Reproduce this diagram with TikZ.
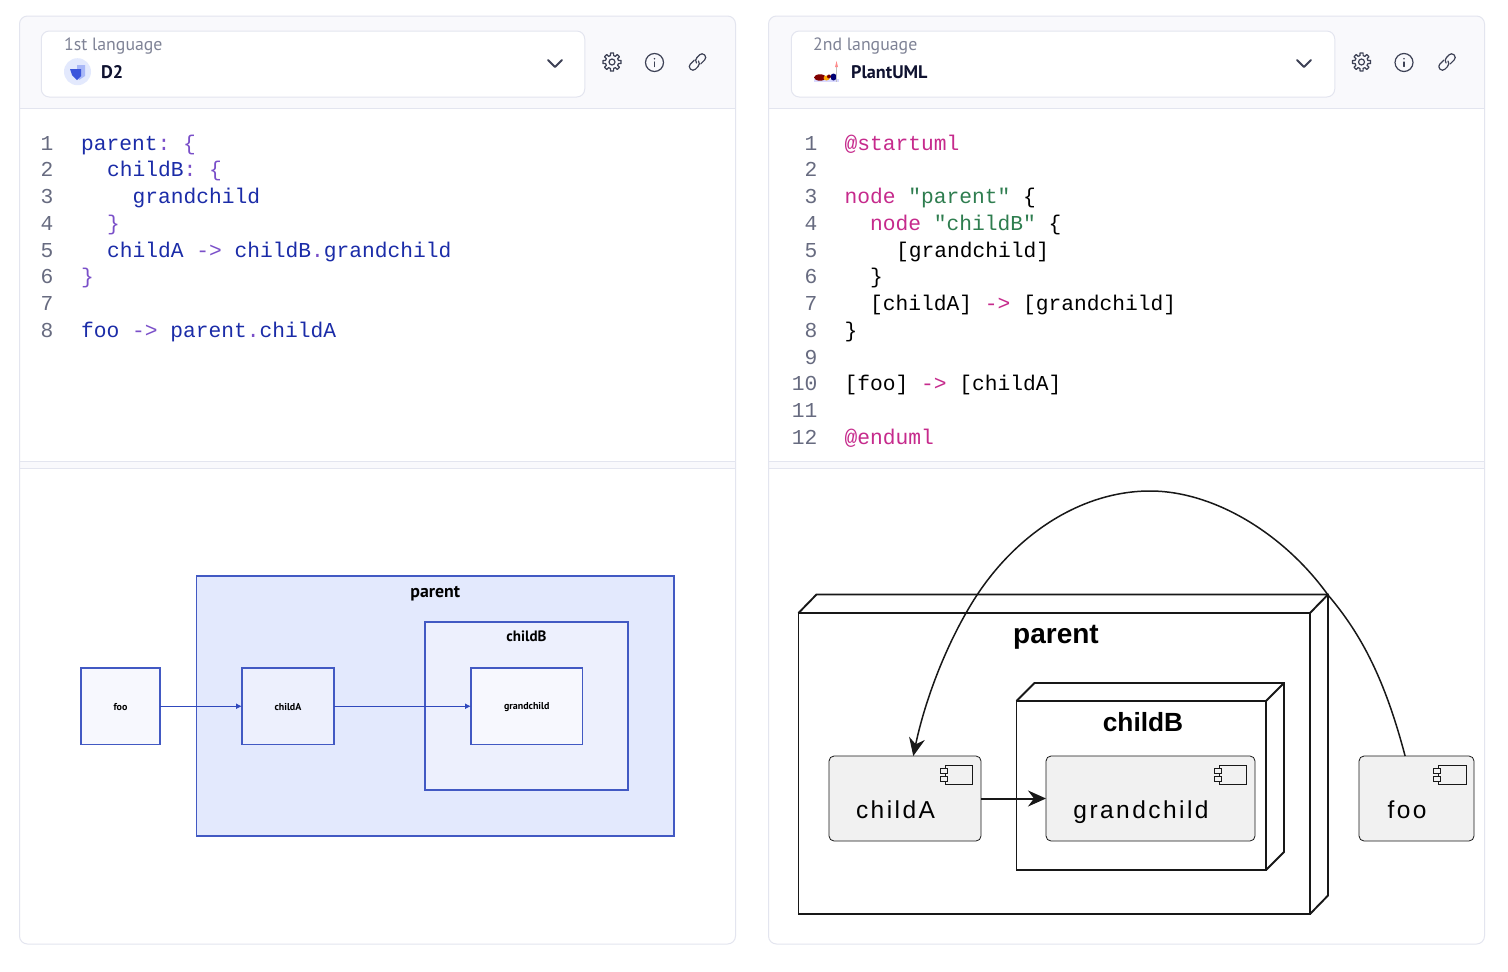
\documentclass[tikz,border=0pt]{standalone}
\usepackage{fontspec}
\setmainfont{PT Sans}
\setmonofont{Liberation Mono}
\newfontfamily\umlfont[LetterSpace=10]{Liberation Sans}
\newfontfamily\umlbold[Scale=1]{Liberation Sans Bold}
\usetikzlibrary{arrows.meta,calc}

\definecolor{edgegray}{HTML}{E3E5EF}
\definecolor{headfill}{HTML}{F9F9FC}
\definecolor{labelgray}{HTML}{7F8396}
\definecolor{inkdark}{HTML}{0F1230}
\definecolor{icongray}{HTML}{3D4155}
\definecolor{numgray}{HTML}{676B80}
\definecolor{dtwoline}{HTML}{4259C3}
\definecolor{dtwoarrow}{HTML}{3049BD}
\definecolor{dtwoa}{HTML}{E3E9FD}
\definecolor{dtwob}{HTML}{EDF0FD}
\definecolor{dtwoc}{HTML}{F7F8FE}
\definecolor{logolight}{HTML}{A9B8F7}
\definecolor{logodark}{HTML}{3B55DB}
\definecolor{keyblue}{HTML}{1B2CA8}
\definecolor{punctpurple}{HTML}{7A4FC9}
\definecolor{kwpink}{HTML}{C62A8C}
\definecolor{strgreen}{HTML}{2E7D4F}
\definecolor{umlfill}{HTML}{F1F1F1}
\definecolor{umlline}{HTML}{181818}

\newcommand{\ky}[1]{\textcolor{keyblue}{#1}}
\newcommand{\pu}[1]{\textcolor{punctpurple}{#1}}
\newcommand{\kw}[1]{\textcolor{kwpink}{#1}}
\newcommand{\st}[1]{\textcolor{strgreen}{#1}}

\tikzset{
  panelline/.style={draw=edgegray, line width=1pt},
  dropbox/.style={draw=edgegray, line width=1pt, fill=white, rounded corners=8pt,
    minimum width=543.5pt, minimum height=66pt, inner sep=0pt},
  langtitle/.style={anchor=base west, font=\fontsize{17.8}{20}\selectfont, text=labelgray, inner sep=0pt},
  langname/.style={anchor=base west, font=\fontsize{18.2}{20}\selectfont\bfseries, text=inkdark, inner sep=0pt},
  codeline/.style={anchor=base west, font=\fontsize{21.25}{24}\selectfont\ttfamily, text=black, inner sep=0pt},
  numline/.style={anchor=base east, font=\fontsize{21.25}{24}\selectfont\ttfamily, text=numgray, inner sep=0pt},
  dtwobox/.style={draw=dtwoline, line width=1.2pt, inner sep=0pt, outer sep=0pt},
  dtwosmall/.style={font=\fontsize{10}{11}\selectfont\bfseries, text=black, inner sep=0pt},
  dtwoarrowline/.style={draw=dtwoarrow, line width=1.3pt, -{Latex[length=6pt,width=6pt]}},
  umlbox/.style={draw=umlline, line width=1.9pt, fill=white, inner sep=0pt, outer sep=0pt},
  umledge/.style={draw=umlline, line width=1.9pt, line join=miter},
  umlcomp/.style={draw=umlline, line width=0.8pt, fill=umlfill, rounded corners=5pt, inner sep=0pt, outer sep=0pt},
  umltext/.style={anchor=base, font=\fontsize{24.5}{28}\umlfont\selectfont, text=black, inner sep=0pt},
  umlhead/.style={font=\fontsize{28}{30}\umlbold\selectfont, text=black, inner sep=0pt},
  umlarrow/.style={draw=umlline, -{Stealth[length=18pt,width=16pt,inset=6pt]}},
  iconline/.style={draw=icongray, line width=1.2pt, line cap=round, line join=round},
  gearicon/.pic={
    \draw[iconline] (0,0) circle [radius=3];
    \foreach \a in {0,45,...,315} {
      \draw[iconline] ({\a-14}:6.6) -- ({\a-10}:9.2) -- ({\a+10}:9.2) -- ({\a+14}:6.6)
        arc [start angle=\a+14, end angle=\a+31, radius=6.6];
    }
  },
  infoicon/.pic={
    \draw[iconline] (0,0) circle [radius=9];
    \draw[iconline] (0,-0.5) -- (0,4);
    \fill[icongray] (0,-3.8) circle [radius=0.9];
  },
  linkicon/.pic={
    \begin{scope}[rotate=45]
    \draw[iconline, rounded corners=3.4pt] (-1,-3.6) -- (-10,-3.6) -- (-10,3.6) -- (-3,3.6);
    \draw[iconline] (-3,3.6) .. controls (-0.8,3.6) and (1.4,2) .. (1.4,0);
    \draw[iconline, rounded corners=3.4pt] (1,3.6) -- (10,3.6) -- (10,-3.6) -- (3,-3.6);
    \draw[iconline] (3,-3.6) .. controls (0.8,-3.6) and (-1.4,-2) .. (-1.4,0);
    \end{scope}
  },
  compicon/.pic={
    \draw[draw=umlline, line width=0.7pt, fill=umlfill] (5,-9.5) rectangle (32.5,9.5);
    \draw[draw=umlline, line width=0.7pt, fill=umlfill] (0,-6.5) rectangle (7,-1.5);
    \draw[draw=umlline, line width=0.7pt, fill=umlfill] (0,1.5) rectangle (7,6.5);
  }
}

\begin{document}
\begin{tikzpicture}[x=1pt,y=-1pt]
\useasboundingbox (0,0) rectangle (1508,972);
\fill[white] (0,0) rectangle (1508,972);

% the two panels
\foreach \x/\side in {19.5/L,768.5/R} {
  \fill[white, rounded corners=8pt] (\x,16) rectangle ({\x+716},944);
  \fill[headfill] (\x,108) [rounded corners=8pt] -- (\x,16) -- ({\x+716},16) [sharp corners] -- ({\x+716},108) -- cycle;
  \fill[headfill] (\x,461) rectangle ({\x+716},468);
  \draw[panelline] (\x,108) -- ({\x+716},108);
  \draw[panelline] (\x,461) -- ({\x+716},461);
  \draw[panelline] (\x,468) -- ({\x+716},468);
  \draw[panelline, rounded corners=8pt] (\x,16) rectangle ({\x+716},944);
}

% language pickers
\node[dropbox] (dropL) at (313,64) {};
\node[dropbox] (dropR) at (1063,64) {};
\node[langtitle] (titleL) at (64,50.5) {1st language};
\node[langtitle] (titleR) at (813,50.5) {2nd language};
\node[langname] (nameL) at (101,78) {D2};
\node[langname] (nameR) at (851,78) {PlantUML};

\foreach \x in {548,1297} {
  \draw[icongray, line width=1.9pt, line cap=round, line join=round] (\x,60) -- ({\x+7},67) -- ({\x+14},60);
}
\foreach \x in {0,749.5} {
  \pic at ({612+\x},62) {gearicon};
  \pic at ({654.5+\x},62.5) {infoicon};
  \pic at ({697.5+\x},62) {linkicon};
}

% d2 logo
\fill[dtwoa] (77.5,71.7) circle [radius=13.5];
\fill[logolight] (77,65) -- (85,65) -- (85,76) -- (79,80) -- (77,75) -- cycle;
\fill[logodark] (70,69) -- (81,69) -- (81,76) -- (77,80) -- (72,75) -- cycle;

% plantuml logo
\fill[blue!15!white] (814,79) rectangle (839,82);
\fill[red!50!black] (820,77.5) ellipse [x radius=6, y radius=3.2];
\fill[orange!70!yellow] (826.5,78) ellipse [x radius=3, y radius=2.5];
\fill[red!45!black] (829,76.5) circle [radius=2];
\fill[blue!45!black] (833.5,77) ellipse [x radius=3, y radius=3.5];
\draw[gray!50, line width=1pt] (836.5,67) -- (836.5,82);
\fill[red!45!white] (836.5,61) -- (838,67) -- (835,67) -- cycle;

% first code
\foreach \n in {1,...,8} {
  \node[numline] (numL\n) at (53.5,{150+26.75*(\n-1)}) {\n};
}
\node[codeline] (codeLa) at (81,150) {\ky{parent}\pu{: \{}};
\node[codeline] (codeLb) at (107,176.75) {\ky{childB}\pu{: \{}};
\node[codeline] (codeLc) at (132.5,203.5) {\ky{grandchild}};
\node[codeline] (codeLd) at (107,230.25) {\pu{\}}};
\node[codeline] (codeLe) at (107,257) {\ky{childA} \pu{->} \ky{childB}\pu{.}\ky{grandchild}};
\node[codeline] (codeLf) at (81,283.75) {\pu{\}}};
\node[codeline] (codeLg) at (81,337.25) {\ky{foo} \pu{->} \ky{parent}\pu{.}\ky{childA}};

% second code
\foreach \n in {1,...,12} {
  \node[numline] (numR\n) at (817.5,{150+26.75*(\n-1)}) {\n};
}
\node[codeline] (codeRa) at (844.5,150) {\kw{@startuml}};
\node[codeline] (codeRb) at (844.5,203.5) {\kw{node} \st{"parent"} \{};
\node[codeline] (codeRc) at (870,230.25) {\kw{node} \st{"childB"} \{};
\node[codeline] (codeRd) at (896,257) {[grandchild]};
\node[codeline] (codeRe) at (870,283.75) {\}};
\node[codeline] (codeRf) at (870,310.5) {[childA] \kw{->} [grandchild]};
\node[codeline] (codeRg) at (844.5,337.25) {\}};
\node[codeline] (codeRh) at (844.5,390.75) {[foo] \kw{->} [childA]};
\node[codeline] (codeRi) at (844.5,444.25) {\kw{@enduml}};

% d2 picture
\node[dtwobox, fill=dtwoa, minimum width=477.5pt, minimum height=260pt] (dparent) at (435.25,706) {};
\node[dtwobox, fill=dtwob, minimum width=203pt, minimum height=168pt] (dchildB) at (526.5,706) {};
\node[dtwobox, fill=dtwoc, minimum width=111.5pt, minimum height=76.5pt] (dgrand) at (526.75,706.25) {};
\node[dtwobox, fill=dtwob, minimum width=92pt, minimum height=76.5pt] (dchildA) at (288,706.25) {};
\node[dtwobox, fill=dtwoc, minimum width=79pt, minimum height=76.5pt] (dfoo) at (120.5,706.25) {};
\node[font=\fontsize{17.8}{18}\selectfont\bfseries, inner sep=0pt] (dparentname) at (435.25,594) {parent};
\node[font=\fontsize{15}{16}\selectfont\bfseries, inner sep=0pt] (dchildBname) at (526.5,636.5) {childB};
\node[dtwosmall] (dgrandname) at (526.75,707) {grandchild};
\node[dtwosmall] (dchildAname) at (288,707) {childA};
\node[dtwosmall] (dfooname) at (120.5,707) {foo};
\draw[dtwoarrowline] (dfoo) -- (dchildA);
\draw[dtwoarrowline] (dchildA) -- (dgrand);

% plantuml picture
\node[umlbox, minimum width=511.5pt, minimum height=301pt] (uparent) at (1054.25,763.5) {};
\draw[umledge] (uparent.north west) -- ++(18,-18.5) -- ++(511.5,0) -- ++(0,301) -- (uparent.south east);
\draw[umledge] (uparent.north east) -- ++(18,-18.5);
\node[umlbox, minimum width=249.5pt, minimum height=169pt] (uchildB) at (1141.25,785.5) {};
\draw[umledge] (uchildB.north west) -- ++(18,-18) -- ++(249.5,0) -- ++(0,169) -- (uchildB.south east);
\draw[umledge] (uchildB.north east) -- ++(18,-18);
\node[umlhead] (uparentname) at (1056,637.5) {parent};
\node[umlhead, font=\fontsize{26.3}{30}\umlbold\selectfont] (uchildBname) at (1143,722.5) {childB};

\node[umlcomp, minimum width=152pt, minimum height=85pt] (uchildA) at (905,798.5) {};
\node[umlcomp, minimum width=209pt, minimum height=85pt] (ugrand) at (1150.5,798.5) {};
\node[umlcomp, minimum width=115pt, minimum height=85pt] (ufoo) at (1416.5,798.5) {};
\pic at (940,774.5) {compicon};
\pic at (1214,774.5) {compicon};
\pic at (1433.5,774.5) {compicon};
\node[umltext] (uchildAname) at (895.5,818) {childA};
\node[umltext] (ugrandname) at (1141,818) {grandchild};
\node[umltext] (ufooname) at (1407,818) {foo};

\draw[umlarrow, line width=2pt] (uchildA) -- (ugrand);
\draw[umlarrow, line width=1.5pt] (ufoo.105) .. controls (1385,680) and (1362,635) .. (1328,595)
  .. controls (1285,535) and (1215,491) .. (1150,491)
  .. controls (1085,491) and (1020,530) .. (977,595)
  .. controls (947,641) and (925,700) .. (uchildA.79);
\end{tikzpicture}
\end{document}
